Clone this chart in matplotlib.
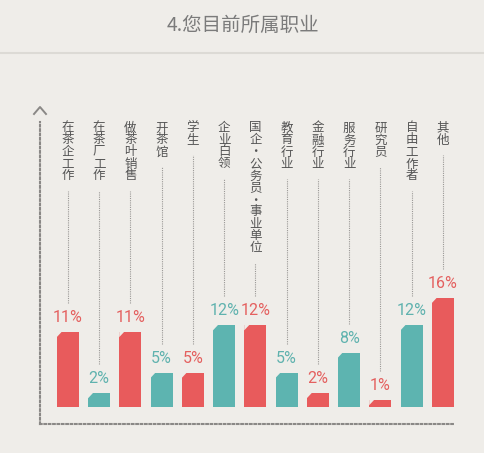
import matplotlib
matplotlib.use("Agg")
import matplotlib.pyplot as plt
from matplotlib.lines import Line2D
from matplotlib.patches import Polygon
import matplotlib.transforms as mtransforms

plt.rcParams['font.family'] = ['Noto Sans CJK SC', 'DejaVu Sans']

categories = ["在茶企工作", "在茶厂工作", "做茶叶销售", "开茶馆", "学生", "企业白领",
              "国企·公务员·事业单位", "教育行业", "金融行业", "服务行业", "研究员",
              "自由工作者", "其他"]
percents = [11, 2, 11, 5, 5, 12, 12, 5, 2, 8, 1, 12, 16]
series_color = ["red", "teal", "red", "teal", "red", "teal", "red",
                "teal", "red", "teal", "red", "teal", "red"]

W, H = 485, 453
BG = "#efede9"
bar_col = {"red": "#e85b5c", "teal": "#5db4b0"}
txt_col = {"red": "#e4605f", "teal": "#5fb2ae"}

fig = plt.figure(figsize=(W / 100, H / 100), dpi=100, facecolor=BG)

# pixel geometry (from top-left)
base_px, scale = 407, 6.8
ax_left, ax_right, ax_top, ax_bot = 40, 454, 100, 424
c0, pitch = 68, 31.25

ax = fig.add_axes([ax_left / W, (H - ax_bot) / H, (ax_right - ax_left) / W, (ax_bot - ax_top) / H])
ax.set_facecolor(BG)
ax.set_xlim((ax_left - c0) / pitch, (ax_right - c0) / pitch)
ax.set_ylim(-(ax_bot - base_px) / scale, (base_px - ax_top) / scale)
ax.set_xticks([])
ax.set_yticks([])
for s in ["top", "right"]:
    ax.spines[s].set_visible(False)
for s in ["left", "bottom"]:
    ax.spines[s].set_linestyle((0, (0.8, 1.3)))
    ax.spines[s].set_linewidth(1.5)
    ax.spines[s].set_color("#8a8886")
ax.spines["left"].set_bounds(ax.get_ylim()[0], (base_px - 122) / scale)

x = list(range(len(categories)))
bw = 22 / pitch
bars = ax.bar(x, percents, width=bw, color=[bar_col[c] for c in series_color], zorder=2)

# chamfered top-left corner
cx, cy = 5 / pitch, 5 / scale
for b in bars:
    x0, h = b.get_x(), b.get_height()
    ax.add_patch(Polygon([(x0 - 0.01, h + 0.1), (x0 + cx, h + 0.1), (x0 - 0.01, h - cy)],
                         closed=True, color=BG, zorder=3, lw=0))

trans = mtransforms.blended_transform_factory(ax.transData, fig.transFigure)
label_top, char_h = 122, 12
for i, (cat, v, c) in enumerate(zip(categories, percents, series_color)):
    for k, ch in enumerate(cat):
        ax.text(i, 1 - (label_top + 6 + char_h * k) / H, ch, transform=trans,
                ha="center", va="center", fontsize=9, color="#555555", clip_on=False)
    y_start = (base_px - (label_top + char_h * len(cat) + 9)) / scale
    y_end = v + 29 / scale
    ax.plot([i, i], [y_end, y_start], color="#9a9896", lw=0.8,
            linestyle=(0, (1, 1)), clip_on=False, zorder=1)
    ax.annotate(f"{v}%", (i, v), xytext=(0, 7), textcoords="offset pixels",
                ha="center", va="bottom", fontsize=11.5, color=txt_col[c],
                family=["Roboto", "DejaVu Sans"])

# arrow head on y axis
fig.add_artist(Line2D([34 / W, 40 / W, 46 / W], [1 - 114 / H, 1 - 107 / H, 1 - 114 / H],
                      color="#8a8886", lw=1.4))

# title and separator
fig.text(0.5, 1 - 25 / H, "4.您目前所属职业", ha="center", va="center",
         fontsize=14, color="#7b7b7b")
fig.add_artist(Line2D([0, 1], [1 - 53 / H, 1 - 53 / H], color="#dcdad5", lw=1.5))

fig.savefig("out.png", dpi=100, facecolor=BG)
